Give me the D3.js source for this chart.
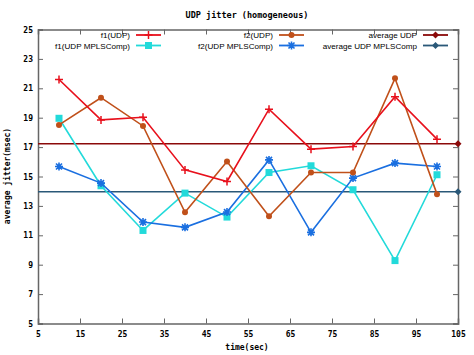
<!DOCTYPE html>
<html><head><meta charset="utf-8">
<script src="https://cdn.jsdelivr.net/npm/d3@7"></script>
<style>body{margin:0;background:#fff}svg{display:block}</style>
</head><body>
<svg id="c" width="474" height="355"></svg>
<script>
const times = [10,20,30,40,50,60,70,80,90,100];
const f1UDP = [21.6,18.85,19.03,15.45,14.66,19.58,16.86,17.04,20.43,17.54];
const f2UDP = [18.51,20.36,18.44,12.56,16.02,12.29,15.27,15.27,21.68,13.8];
const f1MPLS = [18.96,14.37,11.33,13.87,12.24,15.27,15.73,14.1,9.28,15.12];
const f2MPLS = [15.68,14.55,11.9,11.54,12.58,16.13,11.2,14.89,15.91,15.68];
const avgUDP = 17.22;
const avgMPLS = 13.96;
const xTicks = [5,15,25,35,45,55,65,75,85,95,105];
const yTicks = [5,7,9,11,13,15,17,19,21,23,25];

const svg = d3.select("#c");
const L=38, R=458, T=29.5, B=323.5;
const x = d3.scaleLinear().domain([5,105]).range([L,R]);
const y = d3.scaleLinear().domain([5,25]).range([B,T]);
const monoBold = "'DejaVu Sans Mono', monospace";
const sans = "'Liberation Sans', Arial, sans-serif";

svg.append("text").attr("x",247).attr("y",18).attr("text-anchor","middle")
  .attr("font-family",monoBold).attr("font-weight","bold").attr("font-size","8.5px").text("UDP jitter (homogeneous)");

const g = svg.append("g");
const axB = d3.axisBottom(x).tickValues(xTicks).tickSize(-5).tickPadding(8).tickFormat(d3.format("d"));
const axT = d3.axisTop(x).tickValues(xTicks).tickSize(-5).tickFormat("");
const axL = d3.axisLeft(y).tickValues(yTicks).tickSize(-5).tickPadding(5).tickFormat(d3.format("d"));
const axR = d3.axisRight(y).tickValues(yTicks).tickSize(-5).tickFormat("");
[[axB,`translate(0,${B})`],[axT,`translate(0,${T})`],[axL,`translate(${L},0)`],[axR,`translate(${R},0)`]].forEach(([a,t])=>{
  const s = g.append("g").attr("transform",t).call(a);
  s.select(".domain").attr("stroke","#666").attr("stroke-width",1.5);
  s.selectAll(".tick line").attr("stroke","#666");
  s.selectAll("text").attr("font-family",monoBold).attr("font-weight","bold").attr("font-size","8px").attr("fill","#000");
});

svg.append("text").attr("x",247).attr("y",350).attr("text-anchor","middle")
  .attr("font-family",monoBold).attr("font-weight","bold").attr("font-size","8px").text("time(sec)");
svg.append("text").attr("transform","translate(10,176) rotate(-90)").attr("text-anchor","middle")
  .attr("font-family",monoBold).attr("font-weight","bold").attr("font-size","8px").text("average jitter(msec)");

function marker(sel, type, color){
  if(type==="plus"){
    sel.append("path").attr("d","M-4,0H4M0,-4V4").attr("stroke",color).attr("stroke-width",1.5).attr("fill","none");
  } else if(type==="circle"){
    sel.append("circle").attr("r",3).attr("fill",color);
  } else if(type==="square"){
    sel.append("rect").attr("x",-3.5).attr("y",-3.5).attr("width",7).attr("height",7).attr("fill",color);
  } else if(type==="star"){
    sel.append("path").attr("d","M-4,0H4M0,-4V4M-3,-3L3,3M-3,3L3,-3").attr("stroke",color).attr("stroke-width",1.6).attr("fill","none");
  } else if(type==="diamond"){
    sel.append("path").attr("d","M0,-3.5L3.5,0L0,3.5L-3.5,0Z").attr("fill",color);
  }
}

const series = [
  {name:"f1(UDP)", vals:f1UDP, color:"#e8101c", m:"plus"},
  {name:"f1(UDP MPLSComp)", vals:f1MPLS, color:"#22dada", m:"square"},
  {name:"f2(UDP)", vals:f2UDP, color:"#c0501a", m:"circle"},
  {name:"f2(UDP MPLSComp)", vals:f2MPLS, color:"#1a6fe0", m:"star"}
];
const avgs = [
  {name:"average UDP", v:avgUDP, color:"#8b0a0a", m:"diamond"},
  {name:"average UDP MPLSComp", v:avgMPLS, color:"#2a5878", m:"diamond"}
];

const line = d3.line().x((d,i)=>x(times[i])).y(d=>y(d));
const plot = svg.append("g");
avgs.forEach(a=>{
  plot.append("line").attr("x1",x(5)).attr("x2",x(105)).attr("y1",y(a.v)).attr("y2",y(a.v))
    .attr("stroke",a.color).attr("stroke-width",1.5);
  marker(plot.append("g").attr("transform",`translate(${x(105)},${y(a.v)})`), a.m, a.color);
});
[series[1],series[3],series[2],series[0]].forEach(s=>{
  plot.append("path").attr("d",line(s.vals)).attr("fill","none").attr("stroke",s.color).attr("stroke-width",1.6);
  s.vals.forEach((v,i)=>marker(plot.append("g").attr("transform",`translate(${x(times[i])},${y(v)})`), s.m, s.color));
});

const legend = [
  {s:series[0], col:0, row:0},{s:series[1], col:0, row:1},
  {s:series[2], col:1, row:0},{s:series[3], col:1, row:1},
  {s:{name:avgs[0].name,color:avgs[0].color,m:avgs[0].m}, col:2, row:0},
  {s:{name:avgs[1].name,color:avgs[1].color,m:avgs[1].m}, col:2, row:1}
];
const colEnd = [130,273,417];
const rowY = [35,45.5];
const lg = svg.append("g");
legend.forEach(e=>{
  const xe = colEnd[e.col], yy = rowY[e.row];
  lg.append("text").attr("x",xe).attr("y",yy+3).attr("text-anchor","end")
    .attr("font-family",sans).attr("font-size","8.1px").text(e.s.name);
  lg.append("line").attr("x1",xe+6).attr("x2",xe+31).attr("y1",yy).attr("y2",yy)
    .attr("stroke",e.s.color).attr("stroke-width",1.8);
  marker(lg.append("g").attr("transform",`translate(${xe+18.5},${yy})`), e.s.m, e.s.color);
});
</script>
</body></html>
